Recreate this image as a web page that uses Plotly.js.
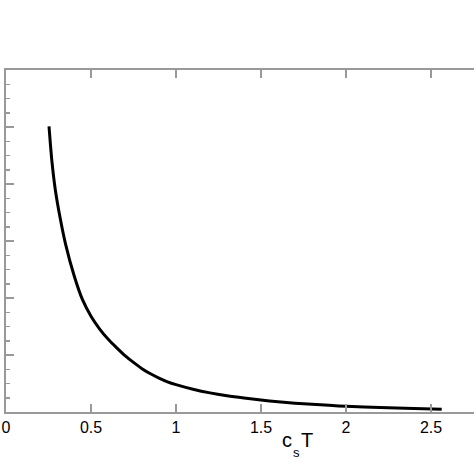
<!DOCTYPE html>
<html>
<head>
<meta charset="utf-8">
<script src="https://cdn.plot.ly/plotly-3.0.1.min.js"></script>
<style>
  html, body { margin: 0; padding: 0; overflow: hidden; background: #fff; }
</style>
</head>
<body>
<div id="plot"></div>
<script>
// values
var cT = [0.253, 0.27, 0.29, 0.32, 0.35, 0.40, 0.45, 0.50, 0.55, 0.60,
          0.65, 0.70, 0.75, 0.80, 0.85, 0.90, 0.95, 1.00, 1.10, 1.20,
          1.30, 1.40, 1.50, 1.60, 1.70, 1.80, 1.90, 2.00, 2.20, 2.40, 2.563];
var yVal = [5.01, 4.40, 3.90, 3.38, 2.95, 2.40, 1.97, 1.68, 1.46, 1.28,
            1.13, 0.99, 0.87, 0.76, 0.67, 0.595, 0.53, 0.48, 0.40, 0.335,
            0.285, 0.245, 0.21, 0.18, 0.155, 0.135, 0.117, 0.10, 0.078, 0.060, 0.048];

var xTicks = [0, 0.5, 1, 1.5, 2, 2.5];
var xTickText = ['0', '0.5', '1', '1.5', '2', '2.5'];

var axisColor = '#999999';

// plot area in pixels, used to place the axis title pieces
var plotLeft = 6, plotW = 468, plotBottom = 412.5, plotH = 342;
function px(x) { return (x - plotLeft) / plotW; }
function py(y) { return (plotBottom - y) / plotH; }

var trace = {
  type: 'scatter',
  mode: 'lines',
  x: cT,
  y: yVal,
  line: { color: '#000000', width: 3, shape: 'spline', smoothing: 0.8 },
  hoverinfo: 'none'
};

var layout = {
  width: 474,
  height: 474,
  margin: { l: 6, r: 0, t: 70, b: 62 },
  paper_bgcolor: '#ffffff',
  plot_bgcolor: '#ffffff',
  showlegend: false,
  font: { family: 'Liberation Sans, Arial, sans-serif', size: 16, color: '#000' },
  xaxis: {
    range: [0, 468 / 170],
    tickvals: xTicks,
    ticktext: xTickText,
    ticks: 'inside',
    ticklen: 8,
    tickwidth: 1.5,
    tickcolor: axisColor,
    showline: true,
    linecolor: axisColor,
    linewidth: 2,
    mirror: 'ticks',
    showgrid: false,
    zeroline: false,
    tickfont: { size: 16, color: '#000' }
  },
  yaxis: {
    range: [0, 6],
    dtick: 1,
    ticks: 'inside',
    ticklen: 8,
    tickwidth: 1.5,
    tickcolor: axisColor,
    minor: { dtick: 0.25, ticks: 'inside', ticklen: 4, tickcolor: axisColor, tickwidth: 1.5 },
    showticklabels: false,
    showline: true,
    linecolor: axisColor,
    linewidth: 2,
    mirror: false,
    showgrid: false,
    zeroline: false
  },
  annotations: [
    { xref: 'paper', yref: 'paper', x: px(286.7), y: py(440.5), xanchor: 'center', yanchor: 'middle',
      showarrow: false, text: 'c', font: { size: 20, color: '#000' } },
    { xref: 'paper', yref: 'paper', x: px(296.3), y: py(453), xanchor: 'center', yanchor: 'middle',
      showarrow: false, text: 's', font: { size: 13, color: '#000' } },
    { xref: 'paper', yref: 'paper', x: px(306.7), y: py(440), xanchor: 'center', yanchor: 'middle',
      showarrow: false, text: 'T', font: { size: 20, color: '#000' } }
  ]
};

Plotly.newPlot('plot', [trace], layout, { staticPlot: true, displayModeBar: false });
</script>
</body>
</html>
